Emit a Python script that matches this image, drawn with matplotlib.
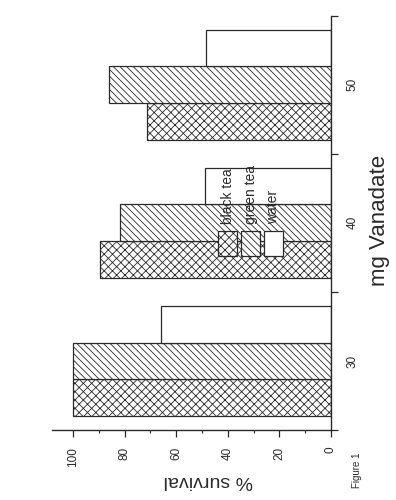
import matplotlib.pyplot as plt
from matplotlib.patches import Rectangle
from matplotlib.ticker import MultipleLocator
import numpy as np

doses = ['30', '40', '50']
black_tea = [100, 89.5, 71.5]
green_tea = [100, 82, 86]
water = [66, 49, 48.5]
series_names = ['black tea', 'green tea', 'water']
survival_ticks = [0, 20, 40, 60, 80, 100]

INK = '#2a2a2a'
hatches = ['xxxx', '\\\\\\\\\\', '']

plt.rcParams['font.family'] = ['Liberation Sans', 'DejaVu Sans']
plt.rcParams['hatch.linewidth'] = 0.6

fig = plt.figure(figsize=(3.96, 5.0), dpi=100)
# axes laid out in pixels of the 396x500 page
ax = fig.add_axes([51.7 / 396, 1 - 430 / 500, (331 - 51.7) / 396, (430 - 15.7) / 500])

pos = np.arange(len(doses))
w = 0.8 / 3
for i, vals in enumerate([black_tea, green_tea, water]):
    ax.barh(pos - 0.4 + w * (i + 0.5), vals, height=w, facecolor='white',
            edgecolor=INK, hatch=hatches[i], linewidth=0.9)

ax.set_xlim(108.3, 0)
ax.set_ylim(-0.5, 2.5)

for s in ['top', 'left']:
    ax.spines[s].set_visible(False)
for s in ['bottom', 'right']:
    ax.spines[s].set_color(INK)
    ax.spines[s].set_linewidth(1.0)

# value axis (bottom)
ax.set_xticks(survival_ticks)
ax.set_xticklabels([str(t) for t in survival_ticks])
ax.xaxis.set_minor_locator(MultipleLocator(10))
ax.tick_params(axis='x', which='major', direction='out', length=5, width=0.9,
               color=INK, labelcolor=INK, labelsize=8.5, labelrotation=90, pad=7)
ax.tick_params(axis='x', which='minor', direction='out', length=2.5, width=0.8, color=INK)

# category axis (right)
ax.yaxis.tick_right()
ax.set_yticks([-0.5, 0.5, 1.5, 2.5])
ax.set_yticklabels([])
ax.set_yticks(pos, minor=True)
ax.set_yticklabels(doses, minor=True)
ax.tick_params(axis='y', which='major', direction='out', length=5, width=0.9, color=INK)
ax.tick_params(axis='y', which='minor', length=0, labelcolor=INK, labelsize=8.5,
               labelrotation=90, pad=11)
for t in ax.get_yticklabels(minor=True):
    t.set_va('center')

fig.text(208 / 396, 1 - 481 / 500, '% survival', rotation=180, ha='center', va='center',
         fontsize=14, color=INK)
fig.text(379 / 396, 1 - 220 / 500, 'mg Vanadate', rotation=90, ha='center', va='center',
         fontsize=16, color=INK)
fig.text(357 / 396, 1 - 470 / 500, 'Figure 1', rotation=90, ha='center', va='center',
         fontsize=7, color=INK)

# legend: boxes with labels above them, everything turned a quarter
box_x = [218, 241, 264]
for i, name in enumerate(series_names):
    fig.patches.append(Rectangle((box_x[i] / 396, 1 - 256 / 500), 19 / 396, 25 / 500,
                                 transform=fig.transFigure, facecolor='white',
                                 edgecolor=INK, hatch=hatches[i], linewidth=0.9))
    fig.text((box_x[i] + 9.5) / 396, 1 - 224 / 500, name, rotation=90, ha='center',
             va='bottom', fontsize=10, color=INK)

fig.savefig('out.png', dpi=100)
